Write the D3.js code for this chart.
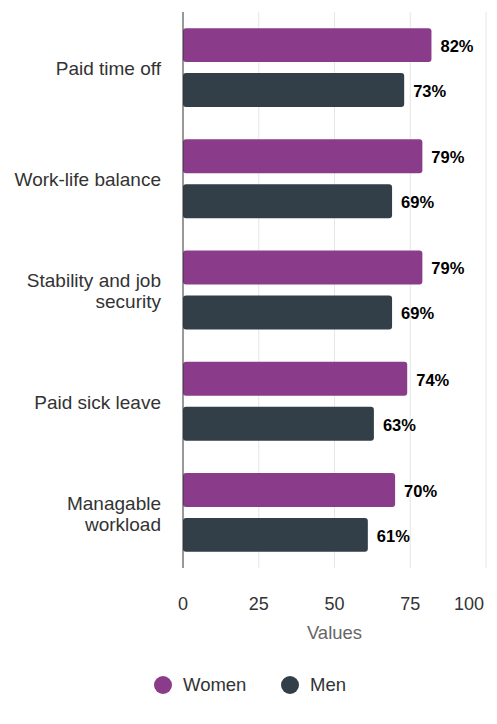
<!DOCTYPE html>
<html>
<head>
<meta charset="utf-8">
<script src="https://cdn.jsdelivr.net/npm/d3@7"></script>
<style>
  body { margin: 0; background: #fff; }
  svg { font-family: "Liberation Sans", Arial, Helvetica, sans-serif; }
</style>
</head>
<body>
<div class="chart"></div>
<script>
var categories = ["Paid time off", "Work-life balance", "Stability and job security", "Paid sick leave", "Managable workload"];
var series = ["Women", "Men"];
var women = [82, 79, 79, 74, 70];
var men = [73, 69, 69, 63, 61];
var ticks = [0, 25, 50, 75, 100];
var colors = ["#8a3c8a", "#323e48"];

var w = 497,
    h = 724;

var margin = {top: 12, left: 183, right: 11, bottom: 156};

var svg = d3.select(".chart")
    .append("svg")
    .attr("width", w)
    .attr("height", h);

var x = d3.scaleLinear()
    .domain([0, 100])
    .range([margin.left, w - margin.right]);

var y = d3.scaleBand()
    .domain(categories)
    .range([margin.top, h - margin.bottom]);

var y1 = d3.scaleBand()
    .domain(series)
    .range([0, y.bandwidth()])
    .paddingInner(0.244)
    .paddingOuter(0.36);

var color = d3.scaleOrdinal().domain(series).range(colors);

// grid lines
svg.append("g")
    .selectAll("line")
    .data(ticks.slice(1))
    .enter().append("line")
    .attr("x1", d => x(d))
    .attr("x2", d => x(d))
    .attr("y1", margin.top)
    .attr("y2", h - margin.bottom)
    .attr("stroke", "#e6e6e6")
    .attr("stroke-width", 1);

// tick labels
svg.append("g")
    .selectAll("text")
    .data(ticks)
    .enter().append("text")
    .attr("x", d => d === 100 ? x(d) - 17 : x(d))
    .attr("y", 610)
    .attr("text-anchor", "middle")
    .attr("font-size", 18)
    .attr("fill", "#333")
    .text(d => d);

svg.append("text")
    .attr("x", x(50))
    .attr("y", 639)
    .attr("text-anchor", "middle")
    .attr("font-size", 18.5)
    .attr("fill", "#666")
    .text("Values");

var rows = categories.map(function (c, i) {
    return {cat: c, values: [{s: "Women", v: women[i]}, {s: "Men", v: men[i]}]};
});

var groups = svg.append("g")
    .selectAll("g")
    .data(rows)
    .enter().append("g")
    .attr("transform", d => "translate(0," + y(d.cat) + ")");

groups.selectAll("rect")
    .data(d => d.values)
    .enter().append("rect")
    .attr("x", x(0))
    .attr("y", d => y1(d.s))
    .attr("width", d => x(d.v) - x(0))
    .attr("height", y1.bandwidth())
    .attr("rx", 3)
    .attr("fill", d => color(d.s));

groups.selectAll("text.val")
    .data(d => d.values)
    .enter().append("text")
    .attr("class", "val")
    .attr("x", d => x(d.v) + 9)
    .attr("y", d => y1(d.s) + y1.bandwidth() / 2 + 1)
    .attr("dy", "0.36em")
    .attr("font-size", 16.5)
    .attr("font-weight", "bold")
    .attr("fill", "#000")
    .text(d => d.v + "%");

// category labels, wrapped
groups.append("text")
    .attr("class", "cat")
    .attr("x", 161)
    .attr("text-anchor", "end")
    .attr("font-size", 19)
    .attr("fill", "#333")
    .each(function (d) {
        var el = d3.select(this);
        var words = d.cat.split(" "), lines = [], line = [];
        words.forEach(function (wd) {
            line.push(wd);
            el.text(line.join(" "));
            if (this.getComputedTextLength() > 155 && line.length > 1) {
                line.pop();
                lines.push(line.join(" "));
                line = [wd];
            }
        }, this);
        lines.push(line.join(" "));
        el.text(null);
        var lh = 21;
        var start = y.bandwidth() / 2 - (lines.length - 1) * lh / 2 + 1;
        lines.forEach(function (l, i) {
            el.append("tspan")
                .attr("x", 161)
                .attr("y", start + i * lh)
                .attr("dy", "0.35em")
                .text(l);
        });
    });

// y axis line
svg.append("line")
    .attr("x1", x(0))
    .attr("x2", x(0))
    .attr("y1", margin.top)
    .attr("y2", h - margin.bottom)
    .attr("stroke", "#333")
    .attr("stroke-width", 1);

// legend
var legend = svg.append("g")
    .selectAll("g")
    .data(series)
    .enter().append("g")
    .attr("transform", (d, i) => "translate(" + (i === 0 ? 163 : 290) + ",685)");

legend.append("circle")
    .attr("r", 9)
    .attr("fill", d => color(d));

legend.append("text")
    .attr("x", 20)
    .attr("dy", "0.35em")
    .attr("font-size", 18.5)
    .attr("fill", "#333")
    .text(d => d);
</script>
</body>
</html>
